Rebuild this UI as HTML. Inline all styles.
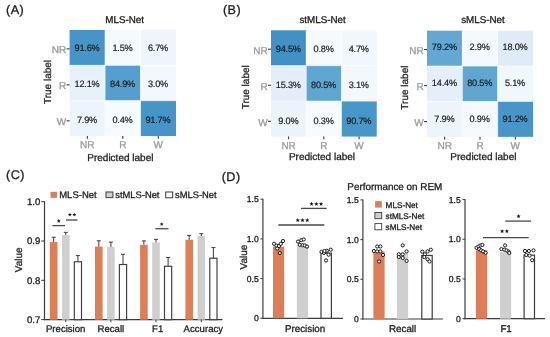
<!DOCTYPE html>
<html><head><meta charset="utf-8"><style>
html,body{margin:0;padding:0;background:#fff;width:550px;height:337px;overflow:hidden}
svg{display:block;will-change:transform}
text{font-family:"Liberation Sans", sans-serif;text-rendering:geometricPrecision}
</style></head><body>
<svg width="550" height="337" viewBox="0 0 550 337">
<rect width="550" height="337" fill="#fff"/>
<text x="6.00" y="14.40" font-size="12.6" fill="#1e1e1e" letter-spacing="0.45" stroke="#1e1e1e" stroke-width="0.3">(A)</text>
<text x="222.90" y="14.30" font-size="12.6" fill="#1e1e1e" letter-spacing="0.45" stroke="#1e1e1e" stroke-width="0.3">(B)</text>
<text x="6.00" y="179.40" font-size="12.6" fill="#1e1e1e" letter-spacing="0.45" stroke="#1e1e1e" stroke-width="0.3">(C)</text>
<text x="221.70" y="181.05" font-size="12.6" fill="#1e1e1e" letter-spacing="0.45" stroke="#1e1e1e" stroke-width="0.3">(D)</text>
<text x="124.70" y="22.90" font-size="9.8" text-anchor="middle" fill="#1e1e1e" stroke="#1e1e1e" stroke-width="0.3">MLS-Net</text>
<rect x="69.60" y="30.00" width="35.52" height="35.38" fill="rgb(71,149,200)"/>
<rect x="105.07" y="30.00" width="35.52" height="35.38" fill="rgb(245,250,254)"/>
<rect x="140.53" y="30.00" width="35.52" height="35.38" fill="rgb(238,245,252)"/>
<rect x="69.60" y="65.33" width="35.52" height="35.38" fill="rgb(231,241,250)"/>
<rect x="105.07" y="65.33" width="35.52" height="35.38" fill="rgb(85,159,206)"/>
<rect x="140.53" y="65.33" width="35.52" height="35.38" fill="rgb(243,248,254)"/>
<rect x="69.60" y="100.67" width="35.52" height="35.38" fill="rgb(236,244,252)"/>
<rect x="105.07" y="100.67" width="35.52" height="35.38" fill="rgb(246,251,255)"/>
<rect x="140.53" y="100.67" width="35.52" height="35.38" fill="rgb(70,149,200)"/>
<line x1="105.07" y1="30.00" x2="105.07" y2="136.00" stroke="#fff" stroke-width="0.6"/>
<line x1="69.60" y1="65.33" x2="176.00" y2="65.33" stroke="#fff" stroke-width="0.6"/>
<line x1="140.53" y1="30.00" x2="140.53" y2="136.00" stroke="#fff" stroke-width="0.6"/>
<line x1="69.60" y1="100.67" x2="176.00" y2="100.67" stroke="#fff" stroke-width="0.6"/>
<text x="87.03" y="50.77" font-size="9.2" text-anchor="middle" fill="#1e1e1e" letter-spacing="-0.2" stroke="#1e1e1e" stroke-width="0.2">91.6%</text>
<text x="122.50" y="50.77" font-size="9.2" text-anchor="middle" fill="#1e1e1e" letter-spacing="-0.2" stroke="#1e1e1e" stroke-width="0.2">1.5%</text>
<text x="157.97" y="50.77" font-size="9.2" text-anchor="middle" fill="#1e1e1e" letter-spacing="-0.2" stroke="#1e1e1e" stroke-width="0.2">6.7%</text>
<text x="87.03" y="86.75" font-size="9.2" text-anchor="middle" fill="#1e1e1e" letter-spacing="-0.2" stroke="#1e1e1e" stroke-width="0.2">12.1%</text>
<text x="122.50" y="86.75" font-size="9.2" text-anchor="middle" fill="#1e1e1e" letter-spacing="-0.2" stroke="#1e1e1e" stroke-width="0.2">84.9%</text>
<text x="157.97" y="86.75" font-size="9.2" text-anchor="middle" fill="#1e1e1e" letter-spacing="-0.2" stroke="#1e1e1e" stroke-width="0.2">3.0%</text>
<text x="87.03" y="122.73" font-size="9.2" text-anchor="middle" fill="#1e1e1e" letter-spacing="-0.2" stroke="#1e1e1e" stroke-width="0.2">7.9%</text>
<text x="122.50" y="122.73" font-size="9.2" text-anchor="middle" fill="#1e1e1e" letter-spacing="-0.2" stroke="#1e1e1e" stroke-width="0.2">0.4%</text>
<text x="157.97" y="122.73" font-size="9.2" text-anchor="middle" fill="#1e1e1e" letter-spacing="-0.2" stroke="#1e1e1e" stroke-width="0.2">91.7%</text>
<text x="66.30" y="52.92" font-size="10" text-anchor="end" fill="#9c9c9c" stroke="#9c9c9c" stroke-width="0.3">NR</text>
<line x1="66.60" y1="48.87" x2="69.60" y2="48.87" stroke="#2a2a2a" stroke-width="1"/>
<line x1="87.33" y1="136.00" x2="87.33" y2="138.80" stroke="#2a2a2a" stroke-width="1"/>
<text x="87.33" y="148.30" font-size="10" text-anchor="middle" fill="#9c9c9c" stroke="#9c9c9c" stroke-width="0.3">NR</text>
<text x="66.30" y="88.90" font-size="10" text-anchor="end" fill="#9c9c9c" stroke="#9c9c9c" stroke-width="0.3">R</text>
<line x1="66.60" y1="84.85" x2="69.60" y2="84.85" stroke="#2a2a2a" stroke-width="1"/>
<line x1="122.80" y1="136.00" x2="122.80" y2="138.80" stroke="#2a2a2a" stroke-width="1"/>
<text x="122.80" y="148.30" font-size="10" text-anchor="middle" fill="#9c9c9c" stroke="#9c9c9c" stroke-width="0.3">R</text>
<text x="66.30" y="124.88" font-size="10" text-anchor="end" fill="#9c9c9c" stroke="#9c9c9c" stroke-width="0.3">W</text>
<line x1="66.60" y1="120.83" x2="69.60" y2="120.83" stroke="#2a2a2a" stroke-width="1"/>
<line x1="158.27" y1="136.00" x2="158.27" y2="138.80" stroke="#2a2a2a" stroke-width="1"/>
<text x="158.27" y="148.30" font-size="10" text-anchor="middle" fill="#9c9c9c" stroke="#9c9c9c" stroke-width="0.3">W</text>
<text x="120.35" y="161.00" font-size="10" text-anchor="middle" fill="#1e1e1e" stroke="#1e1e1e" stroke-width="0.3">Predicted label</text>
<text transform="translate(51.00,82.00) rotate(-90)" font-size="10" text-anchor="middle" fill="#1e1e1e" stroke="#1e1e1e" stroke-width="0.3">True label</text>
<text x="322.60" y="22.90" font-size="9.8" text-anchor="middle" fill="#1e1e1e" stroke="#1e1e1e" stroke-width="0.3">stMLS-Net</text>
<rect x="271.00" y="30.30" width="35.28" height="35.45" fill="rgb(65,145,197)"/>
<rect x="306.23" y="30.30" width="35.28" height="35.45" fill="rgb(246,250,255)"/>
<rect x="341.47" y="30.30" width="35.28" height="35.45" fill="rgb(241,247,253)"/>
<rect x="271.00" y="65.70" width="35.28" height="35.45" fill="rgb(227,238,248)"/>
<rect x="306.23" y="65.70" width="35.28" height="35.45" fill="rgb(95,166,209)"/>
<rect x="341.47" y="65.70" width="35.28" height="35.45" fill="rgb(243,248,254)"/>
<rect x="271.00" y="101.10" width="35.28" height="35.45" fill="rgb(235,243,251)"/>
<rect x="306.23" y="101.10" width="35.28" height="35.45" fill="rgb(247,251,255)"/>
<rect x="341.47" y="101.10" width="35.28" height="35.45" fill="rgb(73,151,201)"/>
<line x1="306.23" y1="30.30" x2="306.23" y2="136.50" stroke="#fff" stroke-width="0.6"/>
<line x1="271.00" y1="65.70" x2="376.70" y2="65.70" stroke="#fff" stroke-width="0.6"/>
<line x1="341.47" y1="30.30" x2="341.47" y2="136.50" stroke="#fff" stroke-width="0.6"/>
<line x1="271.00" y1="101.10" x2="376.70" y2="101.10" stroke="#fff" stroke-width="0.6"/>
<text x="288.32" y="52.20" font-size="9.2" text-anchor="middle" fill="#1e1e1e" letter-spacing="-0.2" stroke="#1e1e1e" stroke-width="0.2">94.5%</text>
<text x="323.55" y="52.20" font-size="9.2" text-anchor="middle" fill="#1e1e1e" letter-spacing="-0.2" stroke="#1e1e1e" stroke-width="0.2">0.8%</text>
<text x="358.78" y="52.20" font-size="9.2" text-anchor="middle" fill="#1e1e1e" letter-spacing="-0.2" stroke="#1e1e1e" stroke-width="0.2">4.7%</text>
<text x="288.32" y="88.25" font-size="9.2" text-anchor="middle" fill="#1e1e1e" letter-spacing="-0.2" stroke="#1e1e1e" stroke-width="0.2">15.3%</text>
<text x="323.55" y="88.25" font-size="9.2" text-anchor="middle" fill="#1e1e1e" letter-spacing="-0.2" stroke="#1e1e1e" stroke-width="0.2">80.5%</text>
<text x="358.78" y="88.25" font-size="9.2" text-anchor="middle" fill="#1e1e1e" letter-spacing="-0.2" stroke="#1e1e1e" stroke-width="0.2">3.1%</text>
<text x="288.32" y="124.30" font-size="9.2" text-anchor="middle" fill="#1e1e1e" letter-spacing="-0.2" stroke="#1e1e1e" stroke-width="0.2">9.0%</text>
<text x="323.55" y="124.30" font-size="9.2" text-anchor="middle" fill="#1e1e1e" letter-spacing="-0.2" stroke="#1e1e1e" stroke-width="0.2">0.3%</text>
<text x="358.78" y="124.30" font-size="9.2" text-anchor="middle" fill="#1e1e1e" letter-spacing="-0.2" stroke="#1e1e1e" stroke-width="0.2">90.7%</text>
<text x="267.70" y="53.50" font-size="10" text-anchor="end" fill="#9c9c9c" stroke="#9c9c9c" stroke-width="0.3">NR</text>
<line x1="268.00" y1="49.20" x2="271.00" y2="49.20" stroke="#2a2a2a" stroke-width="1"/>
<line x1="288.62" y1="136.50" x2="288.62" y2="139.30" stroke="#2a2a2a" stroke-width="1"/>
<text x="288.62" y="148.80" font-size="10" text-anchor="middle" fill="#9c9c9c" stroke="#9c9c9c" stroke-width="0.3">NR</text>
<text x="267.70" y="89.55" font-size="10" text-anchor="end" fill="#9c9c9c" stroke="#9c9c9c" stroke-width="0.3">R</text>
<line x1="268.00" y1="85.25" x2="271.00" y2="85.25" stroke="#2a2a2a" stroke-width="1"/>
<line x1="323.85" y1="136.50" x2="323.85" y2="139.30" stroke="#2a2a2a" stroke-width="1"/>
<text x="323.85" y="148.80" font-size="10" text-anchor="middle" fill="#9c9c9c" stroke="#9c9c9c" stroke-width="0.3">R</text>
<text x="267.70" y="125.60" font-size="10" text-anchor="end" fill="#9c9c9c" stroke="#9c9c9c" stroke-width="0.3">W</text>
<line x1="268.00" y1="121.30" x2="271.00" y2="121.30" stroke="#2a2a2a" stroke-width="1"/>
<line x1="359.08" y1="136.50" x2="359.08" y2="139.30" stroke="#2a2a2a" stroke-width="1"/>
<text x="359.08" y="148.80" font-size="10" text-anchor="middle" fill="#9c9c9c" stroke="#9c9c9c" stroke-width="0.3">W</text>
<text x="322.00" y="160.30" font-size="10" text-anchor="middle" fill="#1e1e1e" stroke="#1e1e1e" stroke-width="0.3">Predicted label</text>
<text transform="translate(248.70,87.30) rotate(-90)" font-size="10" text-anchor="middle" fill="#1e1e1e" stroke="#1e1e1e" stroke-width="0.3">True label</text>
<text x="483.00" y="22.90" font-size="9.8" text-anchor="middle" fill="#1e1e1e" stroke="#1e1e1e" stroke-width="0.3">sMLS-Net</text>
<rect x="427.00" y="30.70" width="35.38" height="35.42" fill="rgb(98,168,210)"/>
<rect x="462.33" y="30.70" width="35.38" height="35.42" fill="rgb(243,249,254)"/>
<rect x="497.67" y="30.70" width="35.38" height="35.42" fill="rgb(223,236,247)"/>
<rect x="427.00" y="66.07" width="35.38" height="35.42" fill="rgb(228,239,249)"/>
<rect x="462.33" y="66.07" width="35.38" height="35.42" fill="rgb(95,166,209)"/>
<rect x="497.67" y="66.07" width="35.38" height="35.42" fill="rgb(240,247,253)"/>
<rect x="427.00" y="101.43" width="35.38" height="35.42" fill="rgb(236,244,252)"/>
<rect x="462.33" y="101.43" width="35.38" height="35.42" fill="rgb(246,250,255)"/>
<rect x="497.67" y="101.43" width="35.38" height="35.42" fill="rgb(72,150,200)"/>
<line x1="462.33" y1="30.70" x2="462.33" y2="136.80" stroke="#fff" stroke-width="0.6"/>
<line x1="427.00" y1="66.07" x2="533.00" y2="66.07" stroke="#fff" stroke-width="0.6"/>
<line x1="497.67" y1="30.70" x2="497.67" y2="136.80" stroke="#fff" stroke-width="0.6"/>
<line x1="427.00" y1="101.43" x2="533.00" y2="101.43" stroke="#fff" stroke-width="0.6"/>
<text x="444.37" y="49.93" font-size="9.2" text-anchor="middle" fill="#1e1e1e" letter-spacing="-0.2" stroke="#1e1e1e" stroke-width="0.2">79.2%</text>
<text x="479.70" y="49.93" font-size="9.2" text-anchor="middle" fill="#1e1e1e" letter-spacing="-0.2" stroke="#1e1e1e" stroke-width="0.2">2.9%</text>
<text x="515.03" y="49.93" font-size="9.2" text-anchor="middle" fill="#1e1e1e" letter-spacing="-0.2" stroke="#1e1e1e" stroke-width="0.2">18.0%</text>
<text x="444.37" y="85.95" font-size="9.2" text-anchor="middle" fill="#1e1e1e" letter-spacing="-0.2" stroke="#1e1e1e" stroke-width="0.2">14.4%</text>
<text x="479.70" y="85.95" font-size="9.2" text-anchor="middle" fill="#1e1e1e" letter-spacing="-0.2" stroke="#1e1e1e" stroke-width="0.2">80.5%</text>
<text x="515.03" y="85.95" font-size="9.2" text-anchor="middle" fill="#1e1e1e" letter-spacing="-0.2" stroke="#1e1e1e" stroke-width="0.2">5.1%</text>
<text x="444.37" y="121.97" font-size="9.2" text-anchor="middle" fill="#1e1e1e" letter-spacing="-0.2" stroke="#1e1e1e" stroke-width="0.2">7.9%</text>
<text x="479.70" y="121.97" font-size="9.2" text-anchor="middle" fill="#1e1e1e" letter-spacing="-0.2" stroke="#1e1e1e" stroke-width="0.2">0.9%</text>
<text x="515.03" y="121.97" font-size="9.2" text-anchor="middle" fill="#1e1e1e" letter-spacing="-0.2" stroke="#1e1e1e" stroke-width="0.2">91.2%</text>
<text x="423.70" y="54.08" font-size="10" text-anchor="end" fill="#9c9c9c" stroke="#9c9c9c" stroke-width="0.3">NR</text>
<line x1="424.00" y1="49.58" x2="427.00" y2="49.58" stroke="#2a2a2a" stroke-width="1"/>
<line x1="444.67" y1="136.80" x2="444.67" y2="139.60" stroke="#2a2a2a" stroke-width="1"/>
<text x="444.67" y="149.10" font-size="10" text-anchor="middle" fill="#9c9c9c" stroke="#9c9c9c" stroke-width="0.3">NR</text>
<text x="423.70" y="90.10" font-size="10" text-anchor="end" fill="#9c9c9c" stroke="#9c9c9c" stroke-width="0.3">R</text>
<line x1="424.00" y1="85.60" x2="427.00" y2="85.60" stroke="#2a2a2a" stroke-width="1"/>
<line x1="480.00" y1="136.80" x2="480.00" y2="139.60" stroke="#2a2a2a" stroke-width="1"/>
<text x="480.00" y="149.10" font-size="10" text-anchor="middle" fill="#9c9c9c" stroke="#9c9c9c" stroke-width="0.3">R</text>
<text x="423.70" y="126.12" font-size="10" text-anchor="end" fill="#9c9c9c" stroke="#9c9c9c" stroke-width="0.3">W</text>
<line x1="424.00" y1="121.62" x2="427.00" y2="121.62" stroke="#2a2a2a" stroke-width="1"/>
<line x1="515.33" y1="136.80" x2="515.33" y2="139.60" stroke="#2a2a2a" stroke-width="1"/>
<text x="515.33" y="149.10" font-size="10" text-anchor="middle" fill="#9c9c9c" stroke="#9c9c9c" stroke-width="0.3">W</text>
<text x="483.35" y="160.00" font-size="10" text-anchor="middle" fill="#1e1e1e" stroke="#1e1e1e" stroke-width="0.3">Predicted label</text>
<text transform="translate(408.10,87.60) rotate(-90)" font-size="10" text-anchor="middle" fill="#1e1e1e" stroke="#1e1e1e" stroke-width="0.3">True label</text>
<line x1="44.50" y1="201.20" x2="44.50" y2="320.20" stroke="#3c3c3c" stroke-width="1.2"/>
<line x1="44.00" y1="319.70" x2="222.50" y2="319.70" stroke="#3c3c3c" stroke-width="1.2"/>
<line x1="41.20" y1="201.70" x2="44.50" y2="201.70" stroke="#3c3c3c" stroke-width="1"/>
<text x="40.30" y="205.10" font-size="9.6" text-anchor="end" fill="#1e1e1e" stroke="#1e1e1e" stroke-width="0.3">1.0</text>
<line x1="41.20" y1="241.00" x2="44.50" y2="241.00" stroke="#3c3c3c" stroke-width="1"/>
<text x="40.30" y="244.40" font-size="9.6" text-anchor="end" fill="#1e1e1e" stroke="#1e1e1e" stroke-width="0.3">0.9</text>
<line x1="41.20" y1="280.30" x2="44.50" y2="280.30" stroke="#3c3c3c" stroke-width="1"/>
<text x="40.30" y="283.70" font-size="9.6" text-anchor="end" fill="#1e1e1e" stroke="#1e1e1e" stroke-width="0.3">0.8</text>
<line x1="41.20" y1="319.60" x2="44.50" y2="319.60" stroke="#3c3c3c" stroke-width="1"/>
<text x="40.30" y="323.00" font-size="9.6" text-anchor="end" fill="#1e1e1e" stroke="#1e1e1e" stroke-width="0.3">0.7</text>
<text transform="translate(22.2,259.8) rotate(-90)" font-size="10" text-anchor="middle" fill="#1e1e1e" stroke="#1e1e1e" stroke-width="0.3">Value</text>
<rect x="49.90" y="242.09" width="7.6" height="77.61" fill="#dd7e58"/>
<line x1="53.70" y1="242.09" x2="53.70" y2="237.21" stroke="#3c3c3c" stroke-width="1"/>
<line x1="51.70" y1="237.21" x2="55.70" y2="237.21" stroke="#3c3c3c" stroke-width="1"/>
<rect x="62.00" y="235.07" width="7.6" height="84.63" fill="#cfcfcf"/>
<line x1="65.80" y1="235.07" x2="65.80" y2="232.34" stroke="#3c3c3c" stroke-width="1"/>
<line x1="63.80" y1="232.34" x2="67.80" y2="232.34" stroke="#3c3c3c" stroke-width="1"/>
<rect x="74.30" y="261.78" width="7.2" height="57.92" fill="#fff" stroke="#3c3c3c" stroke-width="1.15"/>
<line x1="77.90" y1="261.78" x2="77.90" y2="255.58" stroke="#3c3c3c" stroke-width="1"/>
<line x1="75.90" y1="255.58" x2="79.90" y2="255.58" stroke="#3c3c3c" stroke-width="1"/>
<line x1="65.80" y1="319.70" x2="65.80" y2="322.20" stroke="#3c3c3c" stroke-width="1"/>
<text x="65.70" y="331.80" font-size="9.6" text-anchor="middle" fill="#1e1e1e" stroke="#1e1e1e" stroke-width="0.3">Precision</text>
<rect x="95.00" y="246.57" width="7.6" height="73.12" fill="#dd7e58"/>
<line x1="98.80" y1="246.57" x2="98.80" y2="240.80" stroke="#3c3c3c" stroke-width="1"/>
<line x1="96.80" y1="240.80" x2="100.80" y2="240.80" stroke="#3c3c3c" stroke-width="1"/>
<rect x="107.10" y="246.85" width="7.6" height="72.85" fill="#cfcfcf"/>
<line x1="110.90" y1="246.85" x2="110.90" y2="242.09" stroke="#3c3c3c" stroke-width="1"/>
<line x1="108.90" y1="242.09" x2="112.90" y2="242.09" stroke="#3c3c3c" stroke-width="1"/>
<rect x="119.40" y="264.51" width="7.2" height="55.19" fill="#fff" stroke="#3c3c3c" stroke-width="1.15"/>
<line x1="123.00" y1="264.51" x2="123.00" y2="254.30" stroke="#3c3c3c" stroke-width="1"/>
<line x1="121.00" y1="254.30" x2="125.00" y2="254.30" stroke="#3c3c3c" stroke-width="1"/>
<line x1="110.90" y1="319.70" x2="110.90" y2="322.20" stroke="#3c3c3c" stroke-width="1"/>
<text x="110.85" y="331.80" font-size="9.6" text-anchor="middle" fill="#1e1e1e" stroke="#1e1e1e" stroke-width="0.3">Recall</text>
<rect x="140.10" y="244.82" width="7.6" height="74.88" fill="#dd7e58"/>
<line x1="143.90" y1="244.82" x2="143.90" y2="240.92" stroke="#3c3c3c" stroke-width="1"/>
<line x1="141.90" y1="240.92" x2="145.90" y2="240.92" stroke="#3c3c3c" stroke-width="1"/>
<rect x="152.20" y="242.48" width="7.6" height="77.22" fill="#cfcfcf"/>
<line x1="156.00" y1="242.48" x2="156.00" y2="239.36" stroke="#3c3c3c" stroke-width="1"/>
<line x1="154.00" y1="239.36" x2="158.00" y2="239.36" stroke="#3c3c3c" stroke-width="1"/>
<rect x="164.50" y="266.27" width="7.2" height="53.43" fill="#fff" stroke="#3c3c3c" stroke-width="1.15"/>
<line x1="168.10" y1="266.27" x2="168.10" y2="257.49" stroke="#3c3c3c" stroke-width="1"/>
<line x1="166.10" y1="257.49" x2="170.10" y2="257.49" stroke="#3c3c3c" stroke-width="1"/>
<line x1="156.00" y1="319.70" x2="156.00" y2="322.20" stroke="#3c3c3c" stroke-width="1"/>
<text x="157.70" y="331.80" font-size="9.6" text-anchor="middle" fill="#1e1e1e" stroke="#1e1e1e" stroke-width="0.3">F1</text>
<rect x="185.40" y="239.75" width="7.6" height="79.95" fill="#dd7e58"/>
<line x1="189.20" y1="239.75" x2="189.20" y2="235.38" stroke="#3c3c3c" stroke-width="1"/>
<line x1="187.20" y1="235.38" x2="191.20" y2="235.38" stroke="#3c3c3c" stroke-width="1"/>
<rect x="197.50" y="236.01" width="7.6" height="83.69" fill="#cfcfcf"/>
<line x1="201.30" y1="236.01" x2="201.30" y2="233.70" stroke="#3c3c3c" stroke-width="1"/>
<line x1="199.30" y1="233.70" x2="203.30" y2="233.70" stroke="#3c3c3c" stroke-width="1"/>
<rect x="209.80" y="258.20" width="7.2" height="61.50" fill="#fff" stroke="#3c3c3c" stroke-width="1.15"/>
<line x1="213.40" y1="258.20" x2="213.40" y2="247.59" stroke="#3c3c3c" stroke-width="1"/>
<line x1="211.40" y1="247.59" x2="215.40" y2="247.59" stroke="#3c3c3c" stroke-width="1"/>
<line x1="201.30" y1="319.70" x2="201.30" y2="322.20" stroke="#3c3c3c" stroke-width="1"/>
<text x="203.35" y="331.80" font-size="9.6" text-anchor="middle" fill="#1e1e1e" stroke="#1e1e1e" stroke-width="0.3">Accuracy</text>
<line x1="52.40" y1="225.60" x2="65.00" y2="225.60" stroke="#4a4a4a" stroke-width="1.3"/>
<polygon points="58.80,219.09 59.33,220.36 60.70,220.47 59.66,221.37 59.98,222.71 58.80,221.99 57.62,222.71 57.94,221.37 56.90,220.47 58.27,220.36" fill="#111"/>
<line x1="66.00" y1="220.00" x2="77.50" y2="220.00" stroke="#4a4a4a" stroke-width="1.3"/>
<polygon points="69.85,212.69 70.38,213.96 71.75,214.07 70.71,214.97 71.03,216.31 69.85,215.59 68.67,216.31 68.99,214.97 67.95,214.07 69.32,213.96" fill="#111"/>
<polygon points="74.35,212.69 74.88,213.96 76.25,214.07 75.21,214.97 75.53,216.31 74.35,215.59 73.17,216.31 73.49,214.97 72.45,214.07 73.82,213.96" fill="#111"/>
<line x1="155.40" y1="228.70" x2="168.50" y2="228.70" stroke="#4a4a4a" stroke-width="1.3"/>
<polygon points="161.70,222.19 162.23,223.46 163.60,223.57 162.56,224.47 162.88,225.81 161.70,225.09 160.52,225.81 160.84,224.47 159.80,223.57 161.17,223.46" fill="#111"/>
<rect x="50.5" y="191.8" width="6.5" height="6" fill="#dd7e58"/>
<text x="59.20" y="197.60" font-size="9.5" fill="#1e1e1e" stroke="#1e1e1e" stroke-width="0.3">MLS-Net</text>
<rect x="106.0" y="192.0" width="6.9" height="5.6" fill="#cfcfcf" stroke="#3c3c3c" stroke-width="1"/>
<text x="115.20" y="197.60" font-size="9.4" fill="#1e1e1e" stroke="#1e1e1e" stroke-width="0.3">stMLS-Net</text>
<rect x="165.7" y="192.0" width="7.0" height="5.8" fill="#fff" stroke="#3c3c3c" stroke-width="1"/>
<text x="175.00" y="197.60" font-size="9.4" fill="#1e1e1e" stroke="#1e1e1e" stroke-width="0.3">sMLS-Net</text>
<line x1="262.90" y1="198.70" x2="262.90" y2="318.80" stroke="#3c3c3c" stroke-width="1.2"/>
<line x1="262.40" y1="318.30" x2="342.90" y2="318.30" stroke="#3c3c3c" stroke-width="1.2"/>
<line x1="260.40" y1="199.20" x2="262.90" y2="199.20" stroke="#3c3c3c" stroke-width="1"/>
<text x="258.70" y="202.30" font-size="8.6" text-anchor="end" fill="#1e1e1e" stroke="#1e1e1e" stroke-width="0.3">1.5</text>
<line x1="260.40" y1="238.90" x2="262.90" y2="238.90" stroke="#3c3c3c" stroke-width="1"/>
<text x="258.70" y="242.00" font-size="8.6" text-anchor="end" fill="#1e1e1e" stroke="#1e1e1e" stroke-width="0.3">1.0</text>
<line x1="260.40" y1="278.60" x2="262.90" y2="278.60" stroke="#3c3c3c" stroke-width="1"/>
<text x="258.70" y="281.70" font-size="8.6" text-anchor="end" fill="#1e1e1e" stroke="#1e1e1e" stroke-width="0.3">0.5</text>
<line x1="260.40" y1="318.30" x2="262.90" y2="318.30" stroke="#3c3c3c" stroke-width="1"/>
<text x="258.70" y="321.40" font-size="8.6" text-anchor="end" fill="#1e1e1e" stroke="#1e1e1e" stroke-width="0.3">0</text>
<rect x="273.00" y="246.68" width="11.2" height="71.62" fill="#dd7e58"/>
<rect x="296.90" y="245.25" width="11.2" height="73.05" fill="#cfcfcf"/>
<rect x="321.00" y="253.19" width="10.4" height="65.11" fill="#fff" stroke="#3c3c3c" stroke-width="1.2"/>
<circle cx="274.1" cy="243.8" r="1.6" fill="#fff" stroke="#111" stroke-width="0.95"/>
<circle cx="276.5" cy="245.6" r="1.6" fill="#fff" stroke="#111" stroke-width="0.95"/>
<circle cx="277.3" cy="248.5" r="1.6" fill="#fff" stroke="#111" stroke-width="0.95"/>
<circle cx="279" cy="246" r="1.6" fill="#fff" stroke="#111" stroke-width="0.95"/>
<circle cx="280.8" cy="243.8" r="1.6" fill="#fff" stroke="#111" stroke-width="0.95"/>
<circle cx="283" cy="241" r="1.6" fill="#fff" stroke="#111" stroke-width="0.95"/>
<circle cx="279.75" cy="253" r="1.6" fill="#fff" stroke="#111" stroke-width="0.95"/>
<circle cx="298" cy="241.6" r="1.6" fill="#fff" stroke="#111" stroke-width="0.95"/>
<circle cx="301.3" cy="240.2" r="1.6" fill="#fff" stroke="#111" stroke-width="0.95"/>
<circle cx="303.75" cy="239.5" r="1.6" fill="#fff" stroke="#111" stroke-width="0.95"/>
<circle cx="299.8" cy="244.8" r="1.6" fill="#fff" stroke="#111" stroke-width="0.95"/>
<circle cx="302.7" cy="245.2" r="1.6" fill="#fff" stroke="#111" stroke-width="0.95"/>
<circle cx="304.8" cy="245.5" r="1.6" fill="#fff" stroke="#111" stroke-width="0.95"/>
<circle cx="307" cy="246.6" r="1.6" fill="#fff" stroke="#111" stroke-width="0.95"/>
<circle cx="321.5" cy="251.8" r="1.6" fill="#fff" stroke="#111" stroke-width="0.95"/>
<circle cx="324" cy="252.9" r="1.6" fill="#fff" stroke="#111" stroke-width="0.95"/>
<circle cx="326.8" cy="250.8" r="1.6" fill="#fff" stroke="#111" stroke-width="0.95"/>
<circle cx="330.7" cy="249.7" r="1.6" fill="#fff" stroke="#111" stroke-width="0.95"/>
<circle cx="328.6" cy="254.7" r="1.6" fill="#fff" stroke="#111" stroke-width="0.95"/>
<circle cx="324.5" cy="251" r="1.6" fill="#fff" stroke="#111" stroke-width="0.95"/>
<circle cx="326.1" cy="260.4" r="1.6" fill="#fff" stroke="#111" stroke-width="0.95"/>
<text x="305.10" y="332.30" font-size="9.8" text-anchor="middle" fill="#1e1e1e" stroke="#1e1e1e" stroke-width="0.3">Precision</text>
<line x1="301.00" y1="208.40" x2="326.70" y2="208.40" stroke="#4a4a4a" stroke-width="1.3"/>
<polygon points="311.55,201.81 312.13,203.21 313.64,203.33 312.49,204.31 312.84,205.79 311.55,205.00 310.26,205.79 310.61,204.31 309.46,203.33 310.97,203.21" fill="#111"/>
<polygon points="316.30,201.81 316.88,203.21 318.39,203.33 317.24,204.31 317.59,205.79 316.30,205.00 315.01,205.79 315.36,204.31 314.21,203.33 315.72,203.21" fill="#111"/>
<polygon points="321.05,201.81 321.63,203.21 323.14,203.33 321.99,204.31 322.34,205.79 321.05,205.00 319.76,205.79 320.11,204.31 318.96,203.33 320.47,203.21" fill="#111"/>
<line x1="278.30" y1="225.00" x2="324.30" y2="225.00" stroke="#4a4a4a" stroke-width="1.3"/>
<polygon points="297.75,218.01 298.33,219.41 299.84,219.53 298.69,220.51 299.04,221.99 297.75,221.20 296.46,221.99 296.81,220.51 295.66,219.53 297.17,219.41" fill="#111"/>
<polygon points="302.50,218.01 303.08,219.41 304.59,219.53 303.44,220.51 303.79,221.99 302.50,221.20 301.21,221.99 301.56,220.51 300.41,219.53 301.92,219.41" fill="#111"/>
<polygon points="307.25,218.01 307.83,219.41 309.34,219.53 308.19,220.51 308.54,221.99 307.25,221.20 305.96,221.99 306.31,220.51 305.16,219.53 306.67,219.41" fill="#111"/>
<line x1="362.90" y1="199.40" x2="362.90" y2="319.50" stroke="#3c3c3c" stroke-width="1.2"/>
<line x1="362.40" y1="319.00" x2="442.90" y2="319.00" stroke="#3c3c3c" stroke-width="1.2"/>
<line x1="360.40" y1="199.90" x2="362.90" y2="199.90" stroke="#3c3c3c" stroke-width="1"/>
<text x="358.70" y="203.00" font-size="8.6" text-anchor="end" fill="#1e1e1e" stroke="#1e1e1e" stroke-width="0.3">1.5</text>
<line x1="360.40" y1="239.60" x2="362.90" y2="239.60" stroke="#3c3c3c" stroke-width="1"/>
<text x="358.70" y="242.70" font-size="8.6" text-anchor="end" fill="#1e1e1e" stroke="#1e1e1e" stroke-width="0.3">1.0</text>
<line x1="360.40" y1="279.30" x2="362.90" y2="279.30" stroke="#3c3c3c" stroke-width="1"/>
<text x="358.70" y="282.40" font-size="8.6" text-anchor="end" fill="#1e1e1e" stroke="#1e1e1e" stroke-width="0.3">0.5</text>
<line x1="360.40" y1="319.00" x2="362.90" y2="319.00" stroke="#3c3c3c" stroke-width="1"/>
<text x="358.70" y="322.10" font-size="8.6" text-anchor="end" fill="#1e1e1e" stroke="#1e1e1e" stroke-width="0.3">0</text>
<rect x="373.40" y="251.51" width="11.2" height="67.49" fill="#dd7e58"/>
<rect x="396.90" y="253.02" width="11.2" height="65.98" fill="#cfcfcf"/>
<rect x="421.80" y="255.48" width="10.4" height="63.52" fill="#fff" stroke="#3c3c3c" stroke-width="1.2"/>
<circle cx="377.2" cy="246.5" r="1.6" fill="#fff" stroke="#111" stroke-width="0.95"/>
<circle cx="380.4" cy="246.5" r="1.6" fill="#fff" stroke="#111" stroke-width="0.95"/>
<circle cx="373.9" cy="251" r="1.6" fill="#fff" stroke="#111" stroke-width="0.95"/>
<circle cx="377.2" cy="251.4" r="1.6" fill="#fff" stroke="#111" stroke-width="0.95"/>
<circle cx="380.4" cy="251.4" r="1.6" fill="#fff" stroke="#111" stroke-width="0.95"/>
<circle cx="383" cy="255" r="1.6" fill="#fff" stroke="#111" stroke-width="0.95"/>
<circle cx="379.1" cy="261.5" r="1.6" fill="#fff" stroke="#111" stroke-width="0.95"/>
<circle cx="402.7" cy="245.4" r="1.6" fill="#fff" stroke="#111" stroke-width="0.95"/>
<circle cx="406.6" cy="251.4" r="1.6" fill="#fff" stroke="#111" stroke-width="0.95"/>
<circle cx="398.8" cy="254.3" r="1.6" fill="#fff" stroke="#111" stroke-width="0.95"/>
<circle cx="402.7" cy="254.3" r="1.6" fill="#fff" stroke="#111" stroke-width="0.95"/>
<circle cx="398.8" cy="257" r="1.6" fill="#fff" stroke="#111" stroke-width="0.95"/>
<circle cx="402.7" cy="258" r="1.6" fill="#fff" stroke="#111" stroke-width="0.95"/>
<circle cx="406.6" cy="260.9" r="1.6" fill="#fff" stroke="#111" stroke-width="0.95"/>
<circle cx="422.3" cy="251.7" r="1.6" fill="#fff" stroke="#111" stroke-width="0.95"/>
<circle cx="427.6" cy="251.4" r="1.6" fill="#fff" stroke="#111" stroke-width="0.95"/>
<circle cx="430.8" cy="249.7" r="1.6" fill="#fff" stroke="#111" stroke-width="0.95"/>
<circle cx="424.9" cy="254.3" r="1.6" fill="#fff" stroke="#111" stroke-width="0.95"/>
<circle cx="424.3" cy="257" r="1.6" fill="#fff" stroke="#111" stroke-width="0.95"/>
<circle cx="427.6" cy="259.3" r="1.6" fill="#fff" stroke="#111" stroke-width="0.95"/>
<circle cx="429.5" cy="261.5" r="1.6" fill="#fff" stroke="#111" stroke-width="0.95"/>
<text x="402.60" y="332.30" font-size="9.8" text-anchor="middle" fill="#1e1e1e" stroke="#1e1e1e" stroke-width="0.3">Recall</text>
<line x1="465.00" y1="199.10" x2="465.00" y2="319.20" stroke="#3c3c3c" stroke-width="1.2"/>
<line x1="464.50" y1="318.70" x2="545.00" y2="318.70" stroke="#3c3c3c" stroke-width="1.2"/>
<line x1="462.50" y1="199.60" x2="465.00" y2="199.60" stroke="#3c3c3c" stroke-width="1"/>
<text x="460.80" y="202.70" font-size="8.6" text-anchor="end" fill="#1e1e1e" stroke="#1e1e1e" stroke-width="0.3">1.5</text>
<line x1="462.50" y1="239.30" x2="465.00" y2="239.30" stroke="#3c3c3c" stroke-width="1"/>
<text x="460.80" y="242.40" font-size="8.6" text-anchor="end" fill="#1e1e1e" stroke="#1e1e1e" stroke-width="0.3">1.0</text>
<line x1="462.50" y1="279.00" x2="465.00" y2="279.00" stroke="#3c3c3c" stroke-width="1"/>
<text x="460.80" y="282.10" font-size="8.6" text-anchor="end" fill="#1e1e1e" stroke="#1e1e1e" stroke-width="0.3">0.5</text>
<line x1="462.50" y1="318.70" x2="465.00" y2="318.70" stroke="#3c3c3c" stroke-width="1"/>
<text x="460.80" y="321.80" font-size="8.6" text-anchor="end" fill="#1e1e1e" stroke="#1e1e1e" stroke-width="0.3">0</text>
<rect x="475.90" y="250.18" width="11.2" height="68.52" fill="#dd7e58"/>
<rect x="499.90" y="252.16" width="11.2" height="66.54" fill="#cfcfcf"/>
<rect x="524.10" y="255.18" width="10.4" height="63.52" fill="#fff" stroke="#3c3c3c" stroke-width="1.2"/>
<circle cx="476.5" cy="247.8" r="1.6" fill="#fff" stroke="#111" stroke-width="0.95"/>
<circle cx="478.5" cy="246.5" r="1.6" fill="#fff" stroke="#111" stroke-width="0.95"/>
<circle cx="480.5" cy="245.4" r="1.6" fill="#fff" stroke="#111" stroke-width="0.95"/>
<circle cx="482.4" cy="244.9" r="1.6" fill="#fff" stroke="#111" stroke-width="0.95"/>
<circle cx="479.2" cy="249.1" r="1.6" fill="#fff" stroke="#111" stroke-width="0.95"/>
<circle cx="481.1" cy="250.4" r="1.6" fill="#fff" stroke="#111" stroke-width="0.95"/>
<circle cx="483.1" cy="251.4" r="1.6" fill="#fff" stroke="#111" stroke-width="0.95"/>
<circle cx="485.7" cy="252.8" r="1.6" fill="#fff" stroke="#111" stroke-width="0.95"/>
<circle cx="505.1" cy="245.4" r="1.6" fill="#fff" stroke="#111" stroke-width="0.95"/>
<circle cx="501.4" cy="249.1" r="1.6" fill="#fff" stroke="#111" stroke-width="0.95"/>
<circle cx="504.3" cy="249.7" r="1.6" fill="#fff" stroke="#111" stroke-width="0.95"/>
<circle cx="506.6" cy="250.4" r="1.6" fill="#fff" stroke="#111" stroke-width="0.95"/>
<circle cx="508.6" cy="251.7" r="1.6" fill="#fff" stroke="#111" stroke-width="0.95"/>
<circle cx="509.3" cy="253" r="1.6" fill="#fff" stroke="#111" stroke-width="0.95"/>
<circle cx="525" cy="251" r="1.6" fill="#fff" stroke="#111" stroke-width="0.95"/>
<circle cx="528.9" cy="251" r="1.6" fill="#fff" stroke="#111" stroke-width="0.95"/>
<circle cx="533.5" cy="250.4" r="1.6" fill="#fff" stroke="#111" stroke-width="0.95"/>
<circle cx="526.3" cy="255" r="1.6" fill="#fff" stroke="#111" stroke-width="0.95"/>
<circle cx="529.6" cy="255.6" r="1.6" fill="#fff" stroke="#111" stroke-width="0.95"/>
<circle cx="532.2" cy="260.2" r="1.6" fill="#fff" stroke="#111" stroke-width="0.95"/>
<text x="506.10" y="332.30" font-size="9.8" text-anchor="middle" fill="#1e1e1e" stroke="#1e1e1e" stroke-width="0.3">F1</text>
<line x1="505.30" y1="221.10" x2="531.10" y2="221.10" stroke="#4a4a4a" stroke-width="1.3"/>
<polygon points="518.60,214.11 519.18,215.51 520.69,215.63 519.54,216.61 519.89,218.09 518.60,217.30 517.31,218.09 517.66,216.61 516.51,215.63 518.02,215.51" fill="#111"/>
<line x1="483.00" y1="237.60" x2="528.70" y2="237.60" stroke="#4a4a4a" stroke-width="1.3"/>
<polygon points="502.12,229.01 502.71,230.41 504.22,230.53 503.07,231.51 503.42,232.99 502.12,232.20 500.83,232.99 501.18,231.51 500.03,230.53 501.54,230.41" fill="#111"/>
<polygon points="506.88,229.01 507.46,230.41 508.97,230.53 507.82,231.51 508.17,232.99 506.88,232.20 505.58,232.99 505.93,231.51 504.78,230.53 506.29,230.41" fill="#111"/>
<text transform="translate(247.4,257.1) rotate(-90)" font-size="10" text-anchor="middle" fill="#1e1e1e" stroke="#1e1e1e" stroke-width="0.3">Value</text>
<text x="394.80" y="189.60" font-size="9.9" text-anchor="middle" fill="#1e1e1e" stroke="#1e1e1e" stroke-width="0.3">Performance on REM</text>
<rect x="375.1" y="201.1" width="6.7" height="6.5" fill="#dd7e58"/>
<text x="385.60" y="207.60" font-size="8.2" fill="#1e1e1e" stroke="#1e1e1e" stroke-width="0.3">MLS-Net</text>
<rect x="374.9" y="212.5" width="6.8" height="6.2" fill="#cfcfcf" stroke="#3c3c3c" stroke-width="0.9"/>
<text x="385.60" y="218.60" font-size="8.2" fill="#1e1e1e" stroke="#1e1e1e" stroke-width="0.3">stMLS-Net</text>
<rect x="374.9" y="223.6" width="6.8" height="6.2" fill="#fff" stroke="#3c3c3c" stroke-width="0.9"/>
<text x="385.60" y="229.80" font-size="8.2" fill="#1e1e1e" stroke="#1e1e1e" stroke-width="0.3">sMLS-Net</text>
</svg></body></html>
